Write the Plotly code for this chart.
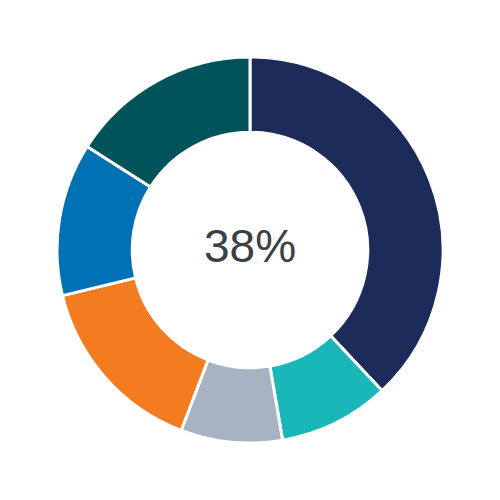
import plotly.graph_objects as go

labels = ["A", "B", "C", "D", "E", "F"]
values = [38, 9.3, 8.5, 15.4, 12.8, 16.0]
colors = ["#1c2b5a", "#1ab7b9", "#a7b3c3", "#f47c20", "#0072b4", "#005459"]
center_text = "38%"

fig = go.Figure(
    data=[
        go.Pie(
            labels=labels,
            values=values,
            hole=0.61,
            sort=False,
            direction="clockwise",
            rotation=0,
            textinfo="none",
            hoverinfo="label+percent",
            marker=dict(colors=colors, line=dict(color="white", width=3)),
        )
    ]
)

# the page sits a few pixels off the window origin, so the margins are uneven
fig.update_layout(
    width=500,
    height=500,
    showlegend=False,
    paper_bgcolor="white",
    plot_bgcolor="white",
    margin=dict(l=49, r=65, t=49, b=65),
    annotations=[
        dict(
            text=center_text,
            x=0.5,
            y=0.51,
            xref="paper",
            yref="paper",
            showarrow=False,
            font=dict(family="Liberation Sans, Arial", size=46, color="#3b3f46"),
        )
    ],
)

fig.write_html("out.html")
